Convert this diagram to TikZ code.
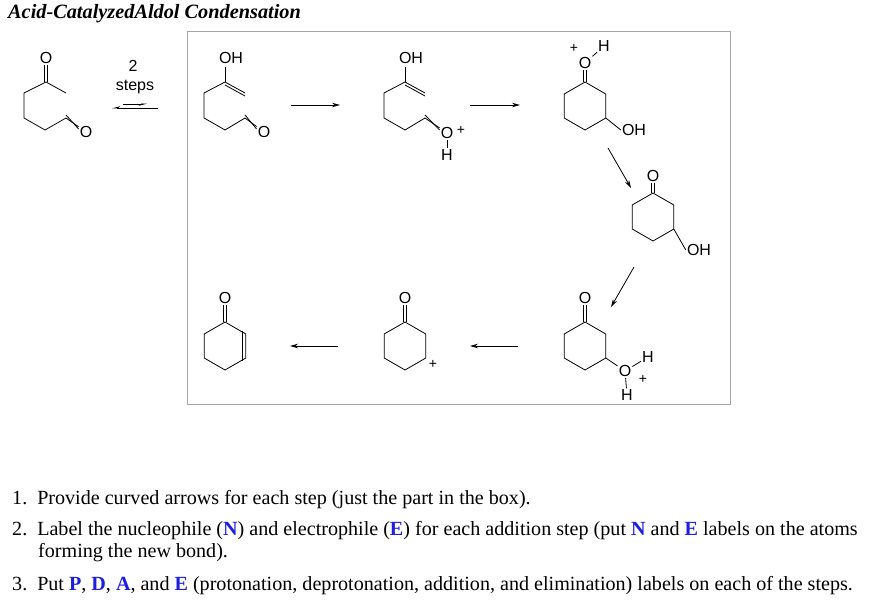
\documentclass[tikz,border=0pt]{standalone}
\usepackage{fontspec}
\setmainfont{Liberation Serif}
\setsansfont{Liberation Sans}
\usetikzlibrary{arrows.meta}
\definecolor{lblue}{RGB}{30,30,225}
\begin{document}
\begin{tikzpicture}[x=1pt,y=-1pt,
  bond/.style={line width=0.8pt},
  atom/.style={font=\sffamily\fontsize{16}{16}\selectfont,inner sep=1pt},
  chg/.style={font=\sffamily\fontsize{14}{14}\selectfont,inner sep=0pt},
  rxn/.style={line width=0.8pt,-{Stealth[length=8pt,width=4.5pt]}},
  listtxt/.style={font=\fontsize{20.1}{24}\selectfont,anchor=west,inner sep=0pt}]
\useasboundingbox (0,0) rectangle (877,601);
\newcommand{\ringat}[3]{% name, x, y  (pointy-top hexagon, r=24)
  \coordinate (#1a) at (#2,#3-24); \coordinate (#1b) at (#2+20.8,#3-12);
  \coordinate (#1c) at (#2+20.8,#3+12); \coordinate (#1d) at (#2,#3+24);
  \coordinate (#1e) at (#2-20.8,#3+12); \coordinate (#1f) at (#2-20.8,#3-12);
  \draw[bond] (#1a)--(#1b)--(#1c)--(#1d)--(#1e)--(#1f)--cycle;}
% title
\node[anchor=west,inner sep=0pt,font=\bfseries\itshape\fontsize{20.3}{20}\selectfont] (title) at (8,14) {Acid-CatalyzedAldol Condensation};
% box
\draw[gray!70,line width=0.9pt] (187,31) rectangle (730,404);
% molecule 1
\node[atom] (m1o1) at (46,58) {O};
\node[atom] (m1o2) at (86,132) {O};
\coordinate (m1c) at (46,82); \coordinate (m1me) at (66,93);
\coordinate (m1a) at (24,93); \coordinate (m1b) at (24,118);
\coordinate (m1d) at (45,130); \coordinate (m1e) at (66,118);
\draw[bond] (m1me)--(m1c)--(m1a)--(m1b)--(m1d)--(m1e)--(m1o2);
\draw[bond] ([xshift=-1.5]m1c)--([xshift=-1.5]m1o1.south); \draw[bond] ([xshift=1.5]m1c)--([xshift=1.5]m1o1.south);
\draw[bond] ([yshift=3]m1e)--([yshift=3]m1o2.west);
% equilibrium
\node[font=\sffamily\fontsize{16}{16}\selectfont] (two) at (133,66) {2};
\node[font=\sffamily\fontsize{16}{16}\selectfont] (steps) at (135,87) {steps};
\coordinate (eqa) at (123,104); \coordinate (eqb) at (147,104);
\coordinate (eqc) at (158,108); \coordinate (eqd) at (112,108);
\draw[line width=0.7pt,-{Stealth[right,length=7pt,width=3.5pt]}] (eqa)--(eqb);
\draw[line width=0.7pt,-{Stealth[right,length=7pt,width=3.5pt]}] (eqc)--(eqd);
% molecule 2 (enol)
\node[atom] (m2oh) at (231,58) {OH};
\node[atom] (m2o) at (264,132) {O};
\coordinate (m2c) at (225,82); \coordinate (m2ch2) at (245,93);
\coordinate (m2a) at (204,93); \coordinate (m2b) at (204,118);
\coordinate (m2d) at (225,130); \coordinate (m2e) at (245,118);
\draw[bond] (m2c)--(225,67);
\draw[bond] (m2ch2)--(m2c)--(m2a)--(m2b)--(m2d)--(m2e)--(m2o);
\draw[bond] ([yshift=-3]m2c)--([yshift=-3]m2ch2);
\draw[bond] ([yshift=3]m2e)--([yshift=3]m2o.west);
% molecule 3
\node[atom] (m3oh) at (411,58) {OH};
\node[atom] (m3o) at (447,133) {O};
\node[chg] (m3p) at (461,130) {+};
\node[atom] (m3h) at (447,155) {H};
\coordinate (m3c) at (405,82); \coordinate (m3ch2) at (425,93);
\coordinate (m3a) at (384,93); \coordinate (m3b) at (384,118);
\coordinate (m3d) at (405,130); \coordinate (m3e) at (425,118);
\draw[bond] (m3c)--(405,67);
\draw[bond] (m3ch2)--(m3c)--(m3a)--(m3b)--(m3d)--(m3e)--(m3o);
\draw[bond] ([yshift=-3]m3c)--([yshift=-3]m3ch2);
\draw[bond] ([yshift=3]m3e)--([yshift=3]m3o.west);
\draw[bond] (m3o)--(m3h);
% molecule 4
\ringat{r4}{585}{106}
\node[atom] (r4o) at (585,63) {O};
\node[chg] (r4p) at (574,48) {+};
\node[atom] (r4h) at (604,46) {H};
\node[atom] (r4oh) at (634,130) {OH};
\draw[bond] ([xshift=-1.5]r4a)--([xshift=-1.5]r4o.south); \draw[bond] ([xshift=1.5]r4a)--([xshift=1.5]r4o.south);
\draw[bond] (r4o)--(r4h); \draw[bond] (r4c)--(r4oh.west);
% molecule 5
\ringat{r5}{653}{217}
\node[atom] (r5o) at (653,176) {O};
\node[atom] (r5oh) at (699,250) {OH};
\draw[bond] ([xshift=-1.5]r5a)--([xshift=-1.5]r5o.south); \draw[bond] ([xshift=1.5]r5a)--([xshift=1.5]r5o.south);
\draw[bond] (r5c)--(r5oh.west);
% molecule 6
\ringat{r6}{585}{346}
\node[atom] (r6o) at (585,298) {O};
\node[atom] (r6oo) at (625,371) {O};
\node[atom] (r6h1) at (648,357) {H};
\node[atom] (r6h2) at (627,395) {H};
\node[chg] (r6p) at (643,379) {+};
\draw[bond] ([xshift=-1.5]r6a)--([xshift=-1.5]r6o.south); \draw[bond] ([xshift=1.5]r6a)--([xshift=1.5]r6o.south);
\draw[bond] (r6c)--(r6oo); \draw[bond] (r6oo)--(r6h1); \draw[bond] (r6oo)--(r6h2);
% molecule 7
\ringat{r7}{405}{346}
\node[atom] (r7o) at (405,298) {O};
\node[chg] (r7p) at (433,364) {+};
\draw[bond] ([xshift=-1.5]r7a)--([xshift=-1.5]r7o.south); \draw[bond] ([xshift=1.5]r7a)--([xshift=1.5]r7o.south);
% molecule 8
\ringat{r8}{225}{346}
\node[atom] (r8o) at (225,298) {O};
\draw[bond] ([xshift=-1.5]r8a)--([xshift=-1.5]r8o.south); \draw[bond] ([xshift=1.5]r8a)--([xshift=1.5]r8o.south);
\draw[bond] ([xshift=-3.5,yshift=3]r8b)--([xshift=-3.5,yshift=-3]r8c);
% reaction arrows
\coordinate (a1s) at (291,105); \coordinate (a1e) at (340,105);
\coordinate (a2s) at (470,105); \coordinate (a2e) at (520,105);
\coordinate (a3s) at (608,148); \coordinate (a3e) at (631,188);
\coordinate (a4s) at (634,267); \coordinate (a4e) at (611,307);
\coordinate (a5s) at (518,346); \coordinate (a5e) at (470,346);
\coordinate (a6s) at (338,346); \coordinate (a6e) at (290,346);
\foreach \i in {1,...,6} \draw[rxn] (a\i s)--(a\i e);
% list
\node[listtxt] (l1) at (12,500) {1.\hspace{10pt}Provide curved arrows for each step (just the part in the box).};
\node[listtxt] (l2) at (12,531) {2.\hspace{10pt}Label the nucleophile (\textcolor{lblue}{\textbf{N}}) and electrophile (\textcolor{lblue}{\textbf{E}}) for each addition step (put \textcolor{lblue}{\textbf{N}} and \textcolor{lblue}{\textbf{E}} labels on the atoms};
\node[listtxt] (l2b) at (38,553) {forming the new bond).};
\node[listtxt] (l3) at (12,586) {3.\hspace{10pt}Put \textcolor{lblue}{\textbf{P}}, \textcolor{lblue}{\textbf{D}}, \textcolor{lblue}{\textbf{A}}, and \textcolor{lblue}{\textbf{E}} (protonation, deprotonation, addition, and elimination) labels on each of the steps.};
\end{tikzpicture}
\end{document}
